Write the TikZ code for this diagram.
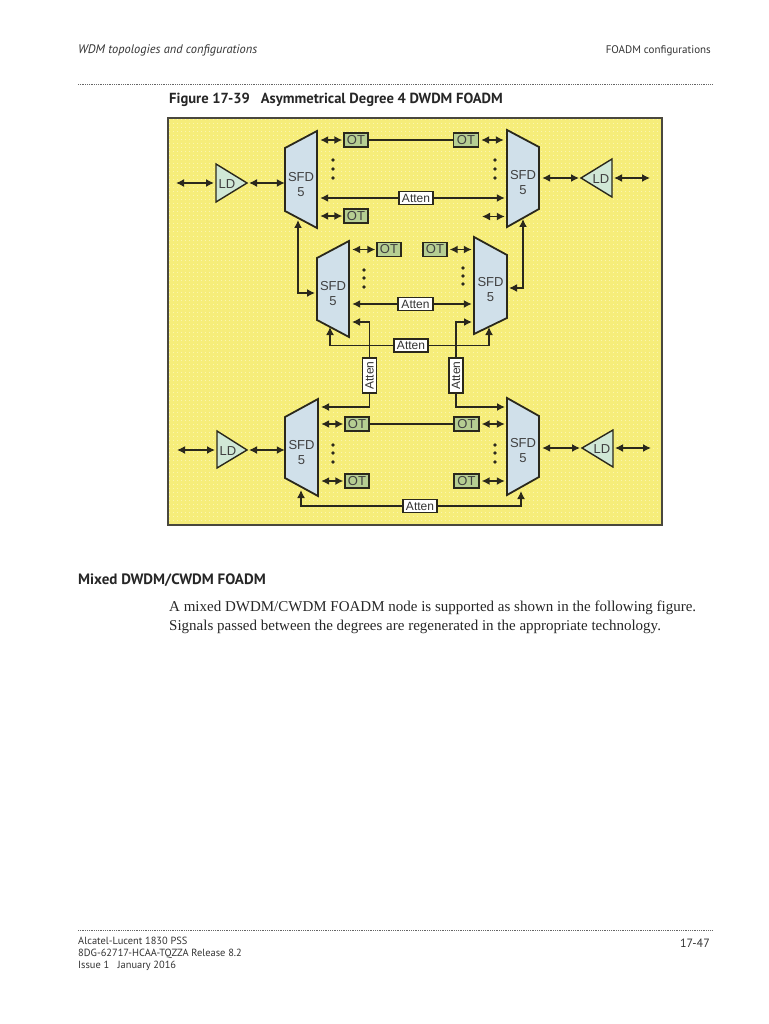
\documentclass[tikz,border=0pt]{standalone}
\usepackage{fontspec}
\setmainfont{Liberation Serif}
\setsansfont{PT Sans}
\newfontfamily\labelfont{Liberation Sans}
\usetikzlibrary{arrows.meta}
\definecolor{panelyellow}{RGB}{246,237,122}
\definecolor{grainyellow}{RGB}{251,246,175}
\definecolor{sfdblue}{RGB}{208,224,234}
\definecolor{ldgreen}{RGB}{208,232,214}
\definecolor{otgreen}{RGB}{182,206,146}
\definecolor{inkdark}{RGB}{42,40,28}
\tikzset{
  lnk/.style={draw=inkdark,line width=1.5pt},
  both/.style={lnk,{Latex[length=8pt,width=8pt]}-{Latex[length=8pt,width=8pt]}},
  tip/.style={lnk,-{Latex[length=8pt,width=8pt]}},
  sfdshape/.style={draw=inkdark,fill=sfdblue,line width=1.8pt,line join=miter},
  ldshape/.style={draw=inkdark,fill=ldgreen,line width=1.4pt},
  sfdtext/.style={font=\labelfont\fontsize{13}{15}\selectfont,text=black!75,align=center,
    inner sep=0pt,minimum width=32pt,minimum height=60pt},
  ldtext/.style={font=\labelfont\fontsize{13}{15}\selectfont,text=black!75,inner sep=0pt},
  otbox/.style={draw=inkdark,fill=otgreen,line width=1.3pt,font=\labelfont\fontsize{13}{15}\selectfont,
    text=black!75,inner sep=0pt,minimum width=24pt,minimum height=14pt},
  attenbox/.style={draw=inkdark,fill=white,line width=1.3pt,font=\labelfont\fontsize{12}{14}\selectfont,
    text=black!80,inner sep=0pt,minimum width=34pt,minimum height=13pt},
  dotmark/.style={circle,fill=inkdark,inner sep=0pt,minimum size=3.6pt},
  pagetext/.style={font=\sffamily\fontsize{11}{13}\selectfont,text=black!80,anchor=base west,inner sep=0pt},
  headtext/.style={font=\sffamily\bfseries\fontsize{14.6}{17}\selectfont,text=black!85,anchor=base west,inner sep=0pt},
  bodytext/.style={font=\rmfamily\fontsize{15}{17}\selectfont,text=black!85,anchor=base west,inner sep=0pt},
  foottext/.style={pagetext,font=\sffamily\fontsize{10.4}{12}\selectfont},
  rulerdot/.style={draw=black!60,line width=0.5pt,dash pattern=on 0.8pt off 1pt}
}
\begin{document}
\begin{tikzpicture}[x=1pt,y=-1pt]
\useasboundingbox (0,0) rectangle (768,1024);
%%Page head
\node[pagetext,font=\sffamily\itshape\fontsize{12.4}{14}\selectfont] (headL) at (78,54) {WDM topologies and configurations};
\node[pagetext,anchor=base east] (headR) at (711,54) {FOADM configurations};
\draw[rulerdot] (78,84) -- (712,84);
\node[headtext] (figTitle) at (169,104) {Figure 17-39\hspace{0.5em} Asymmetrical Degree 4 DWDM FOADM};
%%Panel
\fill[panelyellow] (168,118) rectangle (662,525);
\foreach \yy in {120,124,...,524}
  \draw[grainyellow,line width=1pt,dash pattern=on 1pt off 3pt] (169,\yy) -- (661,\yy);
\draw[inkdark!85,line width=1.6pt] (168,118) rectangle (662,525);
%%SFD oben
\draw[sfdshape] (285,148) -- (317,131) -- (317,228) -- (285,211) -- cycle;
\draw[sfdshape] (507,130) -- (539,147) -- (539,209) -- (507,227) -- cycle;
\node[sfdtext] (sfdA) at (301,184.5) {SFD\\5};
\node[sfdtext] (sfdB) at (523,183) {SFD\\5};
%%SFD mitte
\draw[sfdshape] (317,258) -- (349,241) -- (349,337) -- (317,320) -- cycle;
\draw[sfdshape] (474,237) -- (507,255) -- (507,318) -- (474,334) -- cycle;
\node[sfdtext] (sfdC) at (333,294) {SFD\\5};
\node[sfdtext,minimum width=33pt] (sfdD) at (490.5,289.5) {SFD\\5};
%%SFD unten
\draw[sfdshape] (285,417) -- (318,399) -- (318,496) -- (285,478) -- cycle;
\draw[sfdshape] (507,398) -- (539,416) -- (539,477) -- (507,495) -- cycle;
\node[sfdtext,minimum width=33pt] (sfdE) at (301.5,452.5) {SFD\\5};
\node[sfdtext] (sfdF) at (523,450.5) {SFD\\5};
%%LD
\draw[ldshape] (216,164) -- (247,183) -- (216,202) -- cycle;
\draw[ldshape] (612,159) -- (581,178) -- (612,197) -- cycle;
\draw[ldshape] (217,431) -- (247,450) -- (217,468) -- cycle;
\draw[ldshape] (613,430) -- (582,448) -- (613,467) -- cycle;
\node[ldtext] (ldA) at (227,184) {LD};
\node[ldtext] (ldB) at (601,179) {LD};
\node[ldtext] (ldC) at (228,451) {LD};
\node[ldtext] (ldD) at (602,449) {LD};
%%LD ports
\coordinate (portA) at (176,183);
\coordinate (portB) at (650,178);
\coordinate (portC) at (177,450);
\coordinate (portD) at (651,448);
\coordinate (ldAin) at (214,183);
\coordinate (ldAout) at (249,183);
\coordinate (ldBin) at (579,178);
\coordinate (ldBout) at (614,178);
\coordinate (ldCin) at (215,450);
\coordinate (ldCout) at (249,450);
\coordinate (ldDin) at (580,448);
\coordinate (ldDout) at (615,448);
\draw[both] (portA) -- (ldAin);
\draw[both] (ldAout) -- (sfdA.west |- ldAout);
\draw[both,shorten >=3pt] (ldBin) -- (sfdB.east |- ldBin);
\draw[both] (ldBout) -- (portB);
\draw[both] (portC) -- (ldCin);
\draw[both] (ldCout) -- (sfdE.west |- ldCout);
\draw[both,shorten >=3pt] (ldDin) -- (sfdF.east |- ldDin);
\draw[both] (ldDout) -- (portD);
%%OT oben
\node[otbox] (otA) at (356,140) {OT};
\node[otbox,minimum width=25pt] (otB) at (466,140) {OT};
\node[otbox] (otC) at (356,216) {OT};
\node[attenbox] (attA) at (416,198) {Atten};
\coordinate (freeA) at (482,216.5);
\draw[lnk] (otA) -- (otB);
\draw[both,shorten >=1pt,shorten <=3pt] (sfdA.east |- otA) -- (otA.west);
\draw[both,shorten >=3pt,shorten <=2pt] (otB.east) -- (sfdB.west |- otB);
\draw[both,shorten >=1pt,shorten <=3pt] (sfdA.east |- otC) -- (otC.west);
\draw[both,shorten >=2pt] (freeA) -- (sfdB.west |- freeA);
\draw[tip,shorten >=3pt] (attA.west) -- (sfdA.east |- attA);
\draw[tip,shorten >=2pt] (attA.east) -- (sfdB.west |- attA);
%%OT mitte
\node[otbox] (otD) at (389,249.5) {OT};
\node[otbox] (otE) at (435,249.5) {OT};
\node[attenbox,minimum width=35pt] (attB) at (415.5,304) {Atten};
\draw[both,shorten >=1pt,shorten <=3pt] (sfdC.east |- otD) -- (otD.west);
\draw[both,shorten >=2pt,shorten <=2pt] (otE.east) -- (sfdD.west |- otE);
\draw[tip,shorten >=3pt] (attB.west) -- (sfdC.east |- attB);
\draw[tip,shorten >=2pt] (attB.east) -- (sfdD.west |- attB);
%%OT unten
\node[otbox] (otF) at (357,424) {OT};
\node[otbox,minimum width=25pt] (otG) at (466.5,424) {OT};
\node[otbox] (otH) at (357,481) {OT};
\node[otbox,minimum width=25pt] (otI) at (466.5,481) {OT};
\draw[lnk] (otF) -- (otG);
\draw[both,shorten >=1pt,shorten <=3pt] (sfdE.east |- otF) -- (otF.west);
\draw[both,shorten >=1pt,shorten <=3pt] (sfdE.east |- otH) -- (otH.west);
\draw[both,shorten >=2pt,shorten <=2pt] (otG.east) -- (sfdF.west |- otG);
\draw[both,shorten >=2pt,shorten <=2pt] (otI.east) -- (sfdF.west |- otI);
%%Punkte
\foreach \xx/\yy [count=\i] in {333/160,333/169,333/178,495/160,495/169,495/178,
  364/270,364/278,364/287,463/268,463/276,463/284,
  333/445,333/453,333/462,495/445,495/453,495/462}
  \node[dotmark] (dot\i) at (\xx,\yy) {};
%%Verbindungen zwischen den SFD
\coordinate (sfdAfoot) at (298,220);
\coordinate (sfdBfoot) at (523,219);
\coordinate (sfdCside) at (317,293);
\coordinate (sfdDside) at (507,288);
\draw[both,shorten >=2pt] (sfdAfoot) |- (sfdCside);
\draw[both,shorten >=2pt] (sfdBfoot) |- (sfdDside);
\node[attenbox,rotate=90,minimum width=35pt,minimum height=14pt] (attC) at (369.5,375.5) {Atten};
\node[attenbox,rotate=90,minimum width=35pt,minimum height=14pt] (attD) at (456,375.5) {Atten};
\coordinate (sfdCin) at (349,322);
\coordinate (sfdDin) at (474,322);
\coordinate (sfdEin) at (318,407);
\coordinate (sfdFin) at (507,407);
\draw[tip,shorten >=3pt] (attC.east) |- (sfdCin);
\draw[tip,shorten >=2pt] (attD.east) |- (sfdDin);
\draw[tip,shorten >=3pt] (attC.west) |- (sfdEin);
\draw[tip,shorten >=2pt] (attD.west) |- (sfdFin);
\node[attenbox] (attE) at (411,345.5) {Atten};
\coordinate (sfdCfoot) at (330,327);
\coordinate (sfdDfoot) at (489,327);
\draw[tip] (attE.west) -| (sfdCfoot);
\draw[tip] (attE.east) -| (sfdDfoot);
\node[attenbox] (attF) at (420,506) {Atten};
\coordinate (sfdEfoot) at (301,490);
\coordinate (sfdFfoot) at (521,491);
\draw[tip] (attF.west) -| (sfdEfoot);
\draw[tip] (attF.east) -| (sfdFfoot);
%%Text
\node[headtext,font=\sffamily\bfseries\fontsize{15}{17}\selectfont] (mixHead) at (78,584) {Mixed DWDM/CWDM FOADM};
\node[bodytext] (bodyA) at (169,611) {A mixed DWDM/CWDM FOADM node is supported as shown in the following figure.};
\node[bodytext] (bodyB) at (169,630) {Signals passed between the degrees are regenerated in the appropriate technology.};
%%Page foot
\draw[rulerdot] (78,930) -- (712,930);
\node[foottext] (footA) at (78,944.5) {Alcatel-Lucent 1830 PSS};
\node[foottext] (footB) at (78,956.5) {8DG-62717-HCAA-TQZZA Release 8.2};
\node[foottext] (footC) at (78,968.5) {Issue 1\hspace{0.8em}January 2016};
\node[pagetext,anchor=base east,font=\sffamily\fontsize{12}{14}\selectfont] (pageNo) at (710,947) {17-47};
\end{tikzpicture}
\end{document}
